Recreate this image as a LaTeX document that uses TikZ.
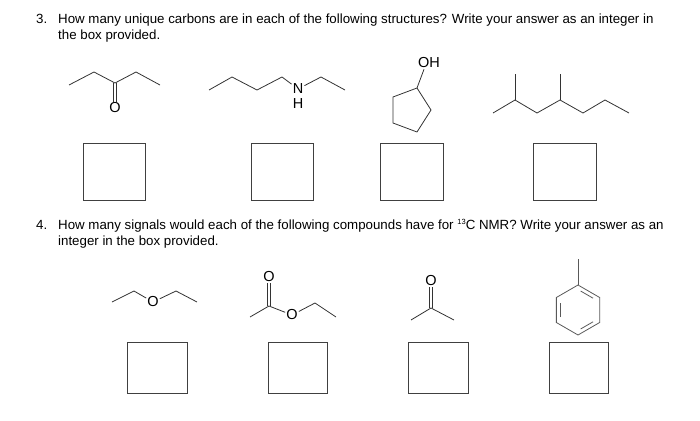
\documentclass[tikz,border=0pt]{standalone}
\usepackage{fontspec}
\setmainfont{Liberation Sans}
\usetikzlibrary{calc}
\begin{document}
\begin{tikzpicture}[x=1pt,y=-1pt,
  bond/.style={draw=black!80,line width=0.8pt},
  atom/.style={inner sep=1pt,font=\fontsize{14.5}{14.5}\selectfont},
  ansbox/.style={draw=black!75,line width=0.9pt},
  qtext/.style={anchor=base west,inner sep=0pt,font=\fontsize{13.3}{15}\selectfont}]
\useasboundingbox (0,0) rectangle (700,420);
% question texts
\node[qtext] (q3n) at (36,24) {3.};
\node[qtext] (q3a) at (58,24) {How many unique carbons are in each of the following structures? Write your answer as an integer in};
\node[qtext] (q3b) at (58,40) {the box provided.};
\node[qtext] (q4n) at (36,229) {4.};
\node[qtext] (q4a) at (58,229) {How many signals would each of the following compounds have for \raisebox{0.6ex}{\fontsize{7.5}{7.5}\selectfont 13}C NMR? Write your answer as an};
\node[qtext] (q4b) at (58,245) {integer in the box provided.};
% ketone
\coordinate (k1) at (69,85); \coordinate (k2) at (94,72); \coordinate (k3) at (115,83);
\coordinate (k4) at (136,72); \coordinate (k5) at (160,85);
\node[atom] (kO) at (115,108) {O};
\draw[bond] (k1)--(k2)--(k3)--(k4)--(k5);
\draw[bond] ([xshift=-1.8pt]k3)--([xshift=-1.8pt]kO.north);
\draw[bond] ([xshift=1.8pt]k3)--([xshift=1.8pt]kO.north);
% amine
\coordinate (a1) at (209,90); \coordinate (a2) at (232,77); \coordinate (a3) at (257,90);
\coordinate (a4) at (282,77); \coordinate (a6) at (321,77); \coordinate (a7) at (345,90);
\node[atom] (aN) at (298,89) {N};
\node[atom] (aH) at (298,104) {H};
\draw[bond] (a1)--(a2)--(a3)--(a4)--(aN)--(a6)--(a7);
% cyclopentanol
\node[atom] (cO) at (429,63) {OH};
\coordinate (c1) at (417,88); \coordinate (c2) at (393,97); \coordinate (c3) at (393,123);
\coordinate (c4) at (417,132); \coordinate (c5) at (431,110);
\draw[bond] (c1)--(c2)--(c3)--(c4)--(c5)--cycle;
\draw[bond] (c1)--([xshift=-5pt]cO.south);
% alkane
\coordinate (l1) at (493,113); \coordinate (l2) at (515,100); \coordinate (l3) at (537,113);
\coordinate (l4) at (560,100); \coordinate (l5) at (583,113); \coordinate (l6) at (605,100);
\coordinate (l7) at (629,113); \coordinate (m1) at (515,74); \coordinate (m2) at (560,74);
\draw[bond] (l1)--(l2)--(l3)--(l4)--(l5)--(l6)--(l7);
\draw[bond] (l2)--(m1); \draw[bond] (l4)--(m2);
% boxes row 1
\draw[ansbox] (83,143) rectangle (145,200);
\draw[ansbox] (251,143) rectangle (313,200);
\draw[ansbox] (380,143) rectangle (443,200);
\draw[ansbox] (533,143) rectangle (596,200);
% ether
\coordinate (e1) at (112,302); \coordinate (e2) at (134,291);
\node[atom] (eO) at (153,302) {O};
\coordinate (e4) at (176,291); \coordinate (e5) at (197,302);
\draw[bond] (e1)--(e2)--(eO)--(e4)--(e5);
% ester
\node[atom] (sO1) at (269,277) {O};
\coordinate (s1) at (250,317); \coordinate (s2) at (269,306);
\node[atom] (sO2) at (292,315) {O};
\coordinate (s4) at (315,303); \coordinate (s5) at (336,317);
\draw[bond] (s1)--(s2)--(sO2)--(s4)--(s5);
\draw[bond] ([xshift=-1.6pt]s2)--([xshift=-1.6pt]sO1.south);
\draw[bond] ([xshift=1.6pt]s2)--([xshift=1.6pt]sO1.south);
% acetone
\node[atom] (pO) at (431,281) {O};
\coordinate (p1) at (411,320); \coordinate (p2) at (431,308); \coordinate (p3) at (454,320);
\draw[bond] (p1)--(p2)--(p3);
\draw[bond] ([xshift=-1.6pt]p2)--([xshift=-1.6pt]pO.south);
\draw[bond] ([xshift=1.6pt]p2)--([xshift=1.6pt]pO.south);
% toluene
\coordinate (tm) at (578,259);
\foreach \i/\a in {1/-90,2/-30,3/30,4/90,5/150,6/210} {
  \coordinate (t\i) at ($(578,310)+(\a:25)$);
  \coordinate (u\i) at ($(578,310)+(\a:20.5)$);
}
\draw[bond,draw=black!65] (t1)--(t2)--(t3)--(t4)--(t5)--(t6)--cycle;
\draw[bond,draw=black!65] (t1)--(tm);
\draw[bond,draw=black!65] ($(u1)!0.15!(u2)$)--($(u2)!0.15!(u1)$);
\draw[bond,draw=black!65] ($(u3)!0.15!(u4)$)--($(u4)!0.15!(u3)$);
\draw[bond,draw=black!65] ($(u5)!0.15!(u6)$)--($(u6)!0.15!(u5)$);
% boxes row 2
\draw[ansbox] (127,342) rectangle (187,393);
\draw[ansbox] (268,342) rectangle (327,393);
\draw[ansbox] (408,342) rectangle (468,393);
\draw[ansbox] (549,342) rectangle (608,393);
\end{tikzpicture}
\end{document}
